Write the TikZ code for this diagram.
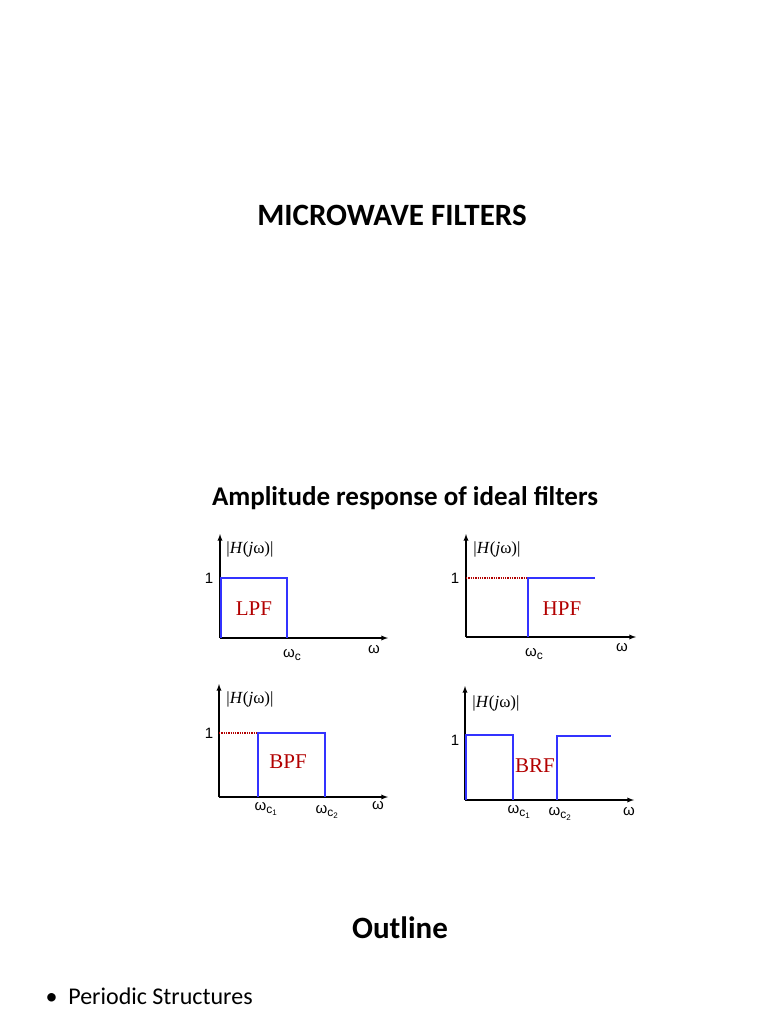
\documentclass[tikz,border=0pt]{standalone}
\usepackage{fontspec}
\setmainfont{Carlito}
\newfontfamily\serifr{Liberation Serif}
\newfontfamily\sansr{Liberation Sans}
\newcommand{\wc}[1]{ω\raisebox{-0.3ex}{\fontsize{12}{12}\selectfont c#1}}
\begin{document}
\begin{tikzpicture}[x=1pt,y=-1pt,
 ax/.style={line width=1.3pt,-latex},
 bl/.style={blue!80!white,line width=1.6pt},
 dt/.style={red!70!black,densely dotted,line width=1.3pt},
 ft/.style={text=red!70!black,font=\serifr\fontsize{21}{21}\selectfont},
 lb/.style={font=\sansr\fontsize{15}{15}\selectfont},
 hj/.style={font=\serifr\fontsize{17}{17}\selectfont}]
\useasboundingbox (0,0) rectangle (768,1024);
\node[font=\bfseries\fontsize{31}{31}\selectfont] (t) at (392,215) {MICROWAVE FILTERS};
\node[font=\bfseries\fontsize{27}{27}\selectfont] (a) at (405,498) {Amplitude response of ideal filters};
\node[font=\bfseries\fontsize{31}{31}\selectfont] (o) at (400,928) {Outline};
\node[anchor=west,font=\fontsize{24}{24}\selectfont] (p) at (42,996) {\textbullet\ \ Periodic Structures};
% LPF
\draw[ax] (220,638) -- (220,534);
\draw[ax] (220,638) -- (388,638);
\draw[bl] (221,638) -- (221,578) -- (287,578) -- (287,638);
\node[lb] (l1) at (209,578) {1};
\node[hj] (lh) at (250,549) {|\textit{H}(\textit{j}ω)|};
\node[ft] (lt) at (254,609) {LPF};
\node[lb] (lc) at (292,655) {\wc{}};
\node[lb] (lw) at (374,650) {ω};
% HPF
\draw[ax] (466,637) -- (466,534);
\draw[ax] (466,637) -- (636,637);
\draw[dt] (466,578) -- (528,578);
\draw[bl] (528,637) -- (528,578) -- (595,578);
\node[lb] (h1) at (455,578) {1};
\node[hj] (hh) at (497,549) {|\textit{H}(\textit{j}ω)|};
\node[ft] (ht) at (562,609) {HPF};
\node[lb] (hc) at (534,654) {\wc{}};
\node[lb] (hw) at (622,648) {ω};
% BPF
\draw[ax] (219,797) -- (219,684);
\draw[ax] (219,797) -- (388,797);
\draw[dt] (219,733) -- (258,733);
\draw[bl] (258,797) -- (258,733) -- (325,733) -- (325,797);
\node[lb] (b1) at (209,733) {1};
\node[hj] (bh) at (250,699) {|\textit{H}(\textit{j}ω)|};
\node[ft] (bt) at (288,762) {BPF};
\node[lb] (bc1) at (266,809) {\wc{\textsubscript{1}}};
\node[lb] (bc2) at (327,812) {\wc{\textsubscript{2}}};
\node[lb] (bw) at (378,806) {ω};
% BRF
\draw[ax] (465,800) -- (465,686);
\draw[ax] (465,800) -- (634,800);
\draw[bl] (466,800) -- (466,735) -- (513,735) -- (513,800);
\draw[bl] (557,800) -- (557,736) -- (611,736);
\node[lb] (r1) at (455,740) {1};
\node[hj] (rh) at (496,703) {|\textit{H}(\textit{j}ω)|};
\node[ft] (rt) at (535,766) {BRF};
\node[lb] (rc1) at (519,812) {\wc{\textsubscript{1}}};
\node[lb] (rc2) at (560,814) {\wc{\textsubscript{2}}};
\node[lb] (rw) at (629,812) {ω};
\end{tikzpicture}
\end{document}
